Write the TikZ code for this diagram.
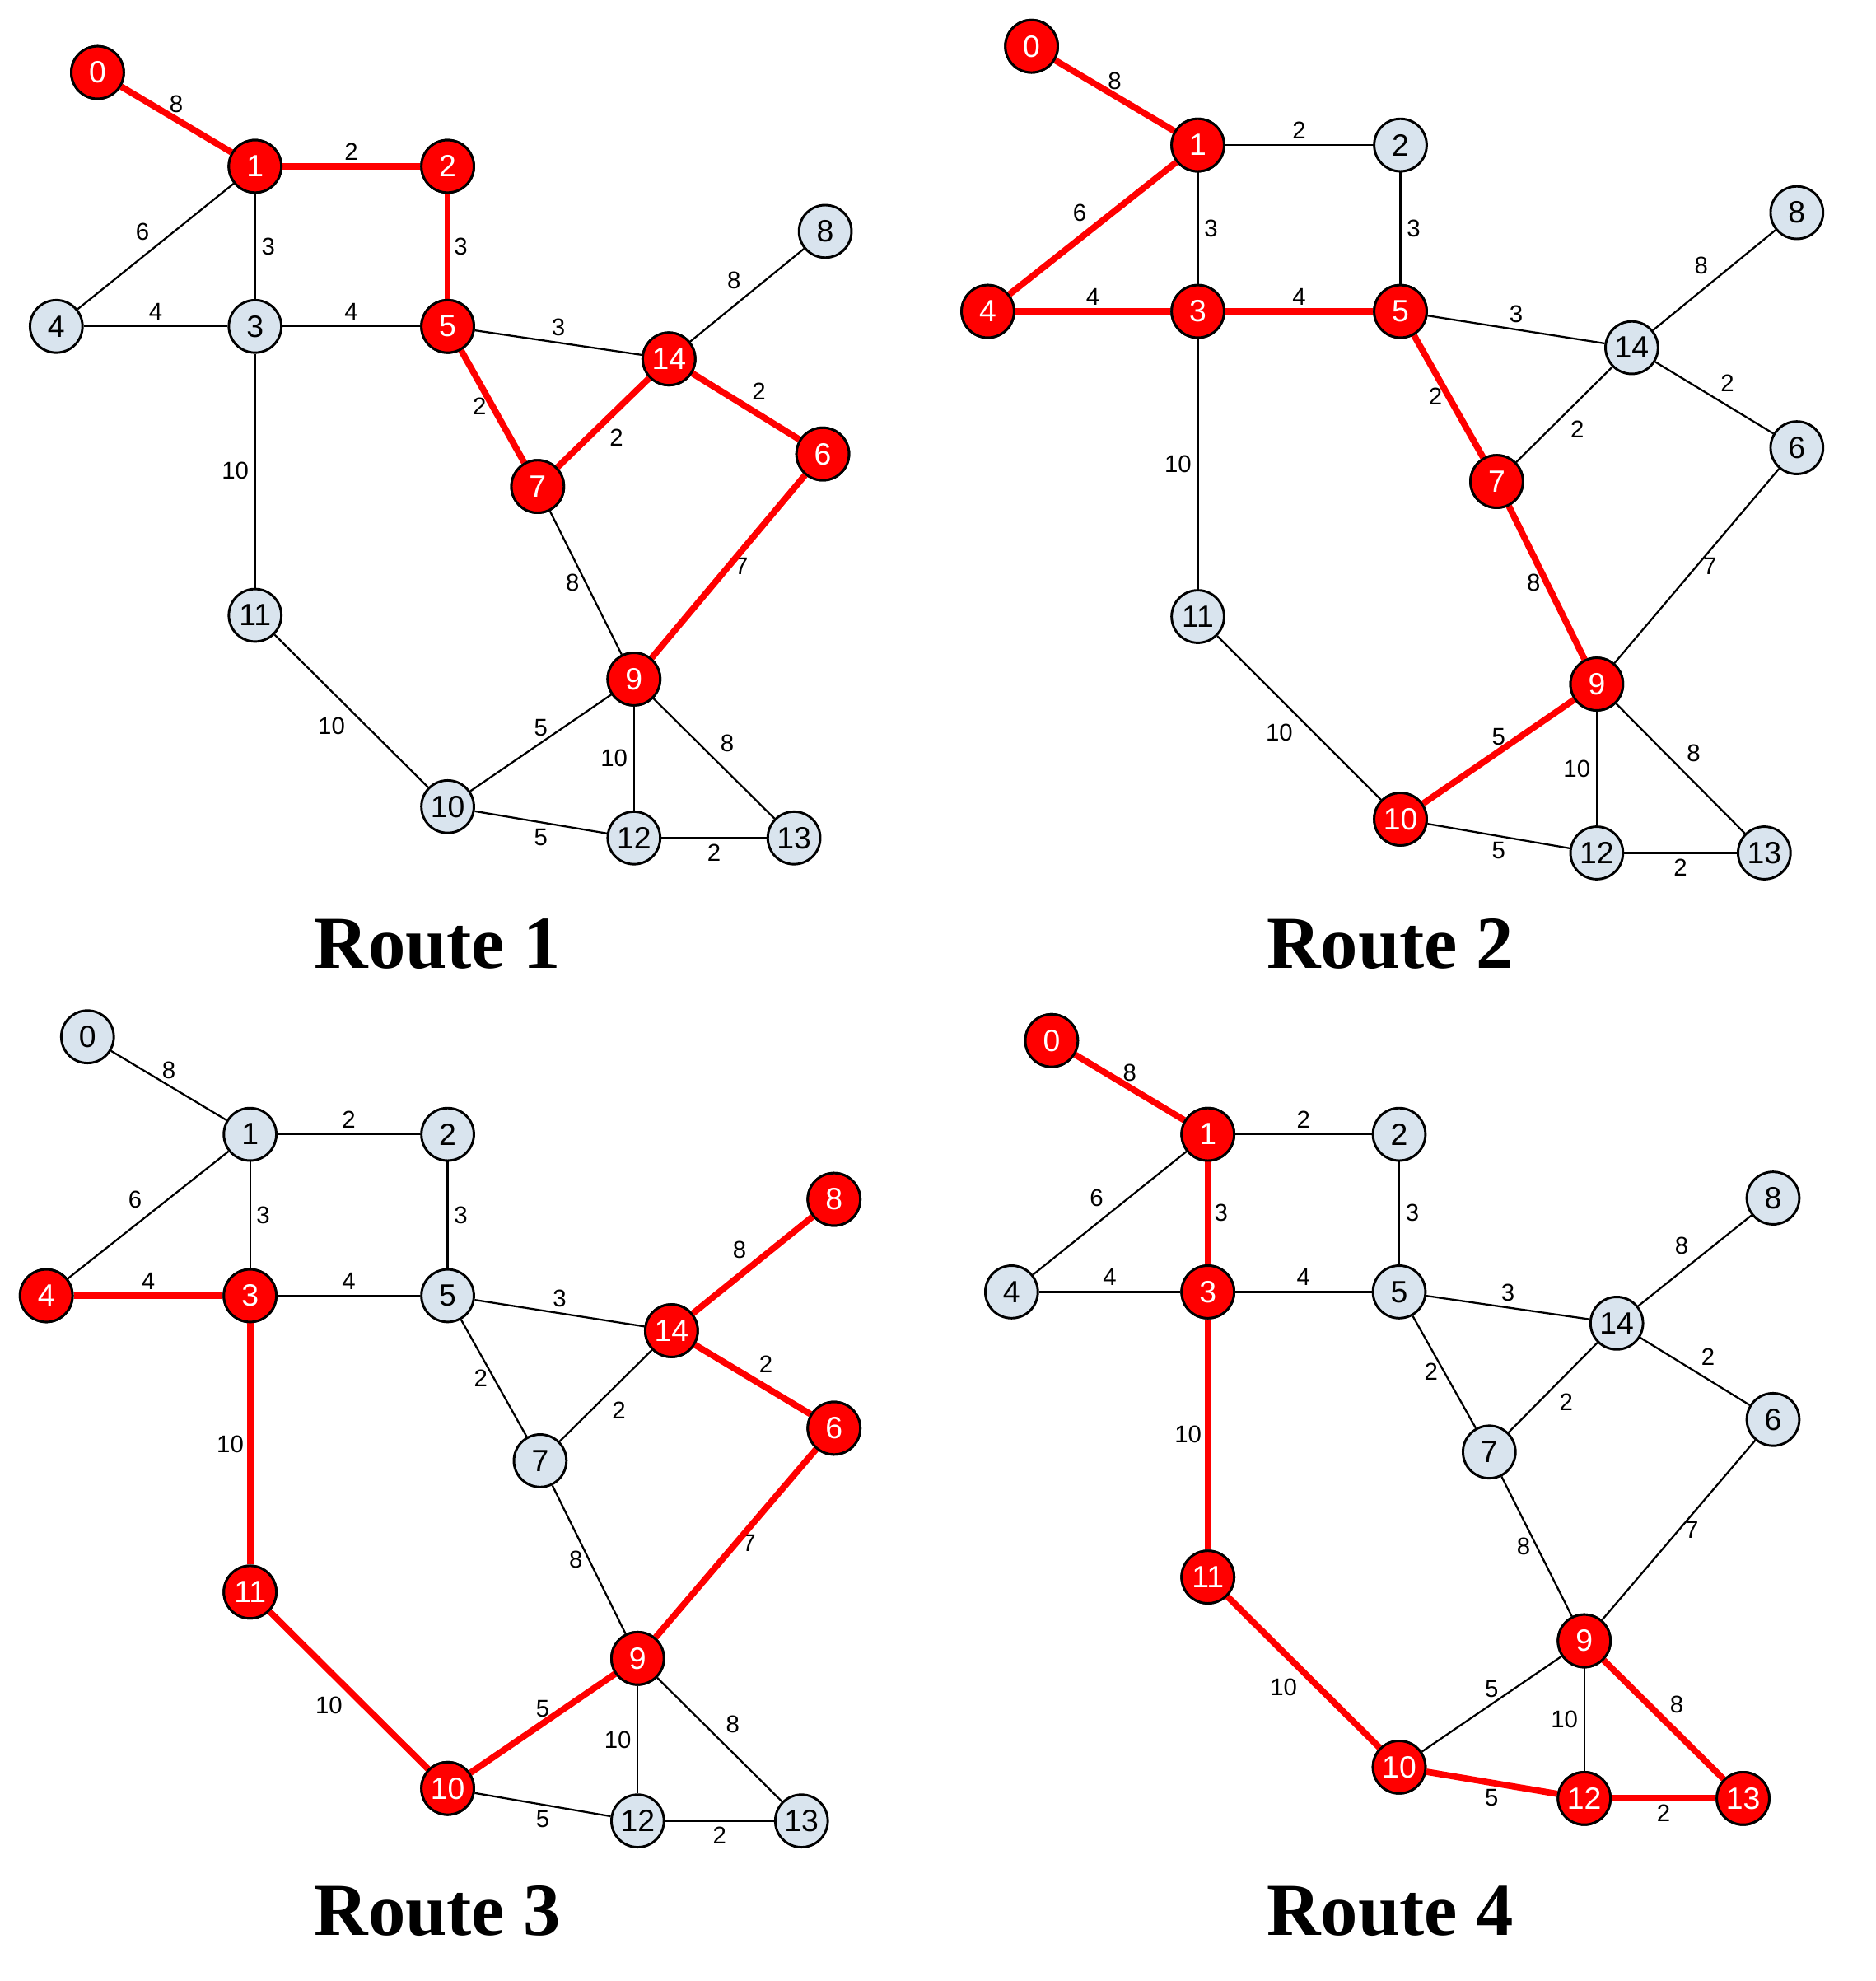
\documentclass[tikz,border=0pt]{standalone}
\usepackage{fontspec}
\setmainfont{Liberation Sans}
\newfontfamily\titlefont{Liberation Serif}
\definecolor{nodegray}{HTML}{D9E4EE}
\definecolor{hired}{HTML}{FF0000}
\tikzset{
 graynode/.style={circle,draw=black,line width=1.1pt,fill=nodegray,minimum size=0.84cm,inner sep=0pt,font=\fontsize{14}{14}\selectfont},
 rednode/.style={graynode,fill=hired,text=white},
 blackedge/.style={draw=black,line width=0.85pt},
 rededge/.style={draw=hired,line width=2.9pt},
 lab/.style={font=\fontsize{11}{11}\selectfont,inner sep=2.5pt},
 routetitle/.style={font=\titlefont\bfseries\fontsize{34}{34}\selectfont}
}
\newcommand\Graph[4]{%
 \foreach \n/\x/\y in {#2}{\node[graynode] (#1\n) at (\x,\y) {\n};}
 \foreach \a/\b/\w/\p in {0/1/8/above,1/2/2/above,1/4/6/above left,1/3/3/right,2/5/3/right,4/3/4/above,3/5/4/above,5/14/3/above,5/7/2/left,14/8/8/above left,14/7/2/below right,14/6/2/above right,3/11/10/left,7/9/8/left,6/9/7/right,11/10/10/below left,9/10/5/above,9/12/10/left,9/13/8/above right,10/12/5/below,12/13/2/below}
  {\draw[blackedge] (#1\a) -- node[lab,\p] {\w} (#1\b);}
 \foreach \a/\b in {#4}{\draw[rededge] (#1\a) -- (#1\b);}
 \foreach \n in {#3}{\node[rednode] (#1r\n) at (#1\n.center) {\n};}
}
\begin{document}
\begin{tikzpicture}[x=0.02cm,y=-0.02cm]
\useasboundingbox (0,0) rectangle (1500,1584);
\Graph{a}{0/78/58,1/204/133,2/358/133,4/45/261,3/204/261,5/358/261,14/535/287,8/660/185,6/658/363,7/430/389,11/204/492,9/507/543,10/358/645,12/507/670,13/635/670}
 {0,1,2,5,7,14,6,9}{0/1,1/2,2/5,5/7,7/14,14/6,6/9}
\Graph{b}{0/825/37,1/958/116,2/1120/116,8/1437/170,4/790/249,3/958/249,5/1120/249,14/1305/278,6/1437/358,7/1197/385,11/958/493,9/1277/547,10/1120/655,12/1277/682,13/1411/682}
 {0,1,4,3,5,7,9,10}{0/1,1/4,4/3,3/5,5/7,7/9,9/10}
\Graph{c}{0/70/829,1/200/907,2/358/907,8/667/959,4/37/1036,3/200/1036,5/358/1036,14/537/1064,6/667/1142,7/432/1168,11/200/1273,9/510/1326,10/358/1430,12/510/1456,13/641/1456}
 {4,3,11,10,9,6,14,8}{4/3,3/11,11/10,10/9,9/6,6/14,14/8}
\Graph{d}{0/841/832,1/966/907,2/1119/907,8/1418/958,4/809/1033,3/966/1033,5/1119/1033,14/1293/1058,6/1418/1135,7/1191/1161,11/966/1261,9/1267/1312,10/1119/1413,12/1267/1438,13/1394/1438}
 {0,1,3,11,10,12,13,9}{0/1,1/3,3/11,11/10,10/12,12/13,13/9}
\node[routetitle] (t1) at (350,755) {Route 1};
\node[routetitle] (t2) at (1112,755) {Route 2};
\node[routetitle] (t3) at (350,1528) {Route 3};
\node[routetitle] (t4) at (1112,1528) {Route 4};
\end{tikzpicture}
\end{document}
